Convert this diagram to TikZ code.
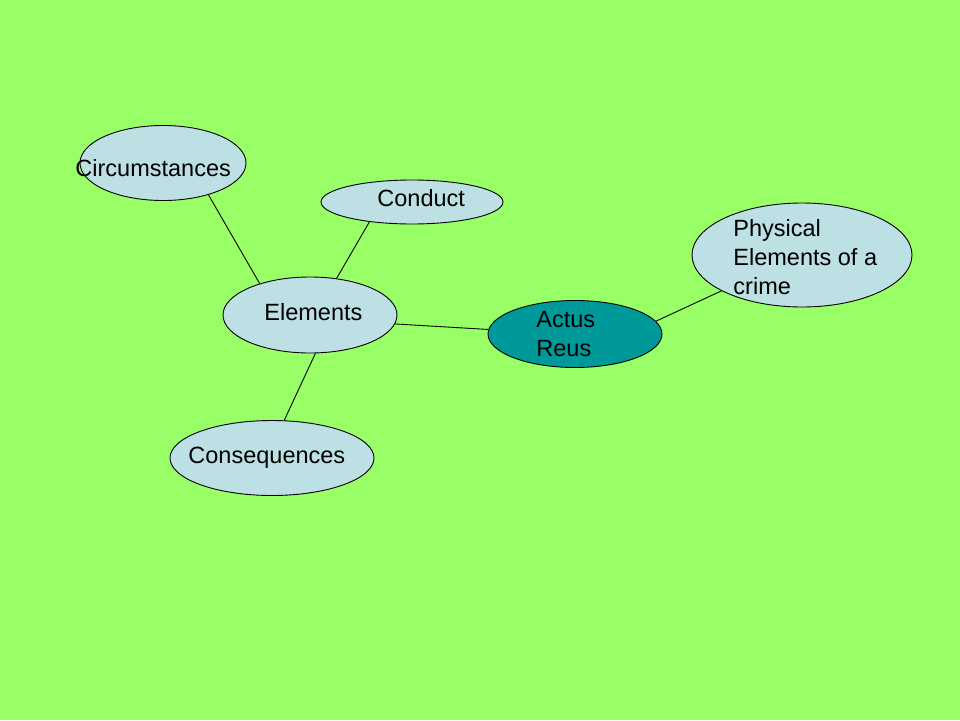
\documentclass[tikz,border=0pt]{standalone}
\usepackage{fontspec}
\setmainfont{Liberation Sans}
\usetikzlibrary{shapes.geometric}
\definecolor{lawn}{RGB}{153,255,102}
\definecolor{paleblue}{RGB}{188,224,228}
\definecolor{darkteal}{RGB}{0,153,153}
\begin{document}
\begin{tikzpicture}[x=1pt, y=-1pt, line width=0.9pt,
	blob/.style={ellipse, draw, fill=paleblue, inner sep=0pt},
	lbl/.style={anchor=base west, inner sep=0pt, align=left,
		font=\fontsize{23.5}{28.7}\selectfont}]
	\fill[lawn] (0, 0) rectangle (960, 720);
	\useasboundingbox (0, 0) rectangle (960, 720);
	% the ellipses
	\node[blob, minimum width=166, minimum height=75] (circ) at (163, 163) {};
	\node[blob, minimum width=182, minimum height=44] (cond) at (412, 202) {};
	\node[blob, minimum width=174, minimum height=76] (elem) at (310, 315) {};
	\node[blob, fill=darkteal, minimum width=174, minimum height=67] (actus) at (575, 334) {};
	\node[blob, minimum width=220, minimum height=104] (phys) at (802, 255) {};
	\node[blob, minimum width=204, minimum height=75] (cons) at (272, 458) {};
	% the texts (base of the last line)
	\node[lbl] (circtext) at (75, 176) {Circumstances};
	\node[lbl] (condtext) at (377, 206) {Conduct};
	\node[lbl] (elemtext) at (264, 320) {Elements};
	\node[lbl] (actustext) at (536, 356) {Actus\\Reus};
	\node[lbl] (phystext) at (733, 294) {Physical\\Elements of a\\crime};
	\node[lbl] (constext) at (188, 463) {Consequences};
	% the links
	\draw (circ.-35) -- (elem.148);
	\draw (cond.205) -- (elem.54);
	\draw (elem.-6) -- (actus.177);
	\draw (elem.-82) -- (cons.72);
	\draw (actus.9) -- (phys.204);
\end{tikzpicture}
\end{document}
